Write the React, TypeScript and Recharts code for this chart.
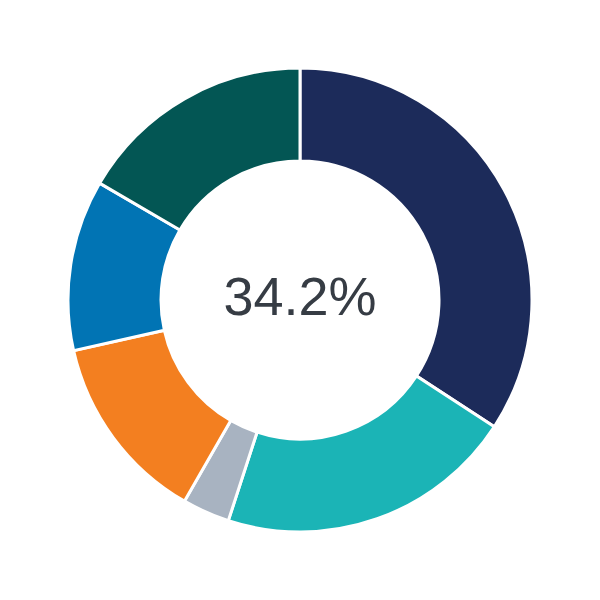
import { PieChart, Pie, Cell } from "recharts";

// slice shares (%), clockwise from 12 o'clock
const segmentNames = ["A", "B", "C", "D", "E", "F"];
const segmentValues = [34.2, 20.8, 3.3, 13.2, 11.9, 16.6];
const segmentColors = ["#1c2b5a", "#1bb4b6", "#a8b3c1", "#f37f20", "#0174b4", "#035654"];
const centerLabel = "34.2%";

const data = segmentNames.map((name, i) => ({ name, value: segmentValues[i] }));

export default function App() {
  return (
    <div style={{ position: "absolute", left: 0, top: 0, width: 600, height: 600, background: "#fff" }}>
      <PieChart width={600} height={600} margin={{ top: 0, right: 0, bottom: 0, left: 0 }}>
        <Pie
          data={data}
          dataKey="value"
          cx={300}
          cy={300}
          innerRadius={139}
          outerRadius={232}
          startAngle={90}
          endAngle={-270}
          stroke="#ffffff"
          strokeWidth={3}
          isAnimationActive={false}
        >
          {data.map((d, i) => (
            <Cell key={d.name} fill={segmentColors[i]} />
          ))}
        </Pie>
        <text
          x={300}
          y={296}
          textAnchor="middle"
          dominantBaseline="central"
          fontFamily="Liberation Sans, Arial, sans-serif"
          fontSize={54}
          fill="#363c44"
        >
          {centerLabel}
        </text>
      </PieChart>
    </div>
  );
}
